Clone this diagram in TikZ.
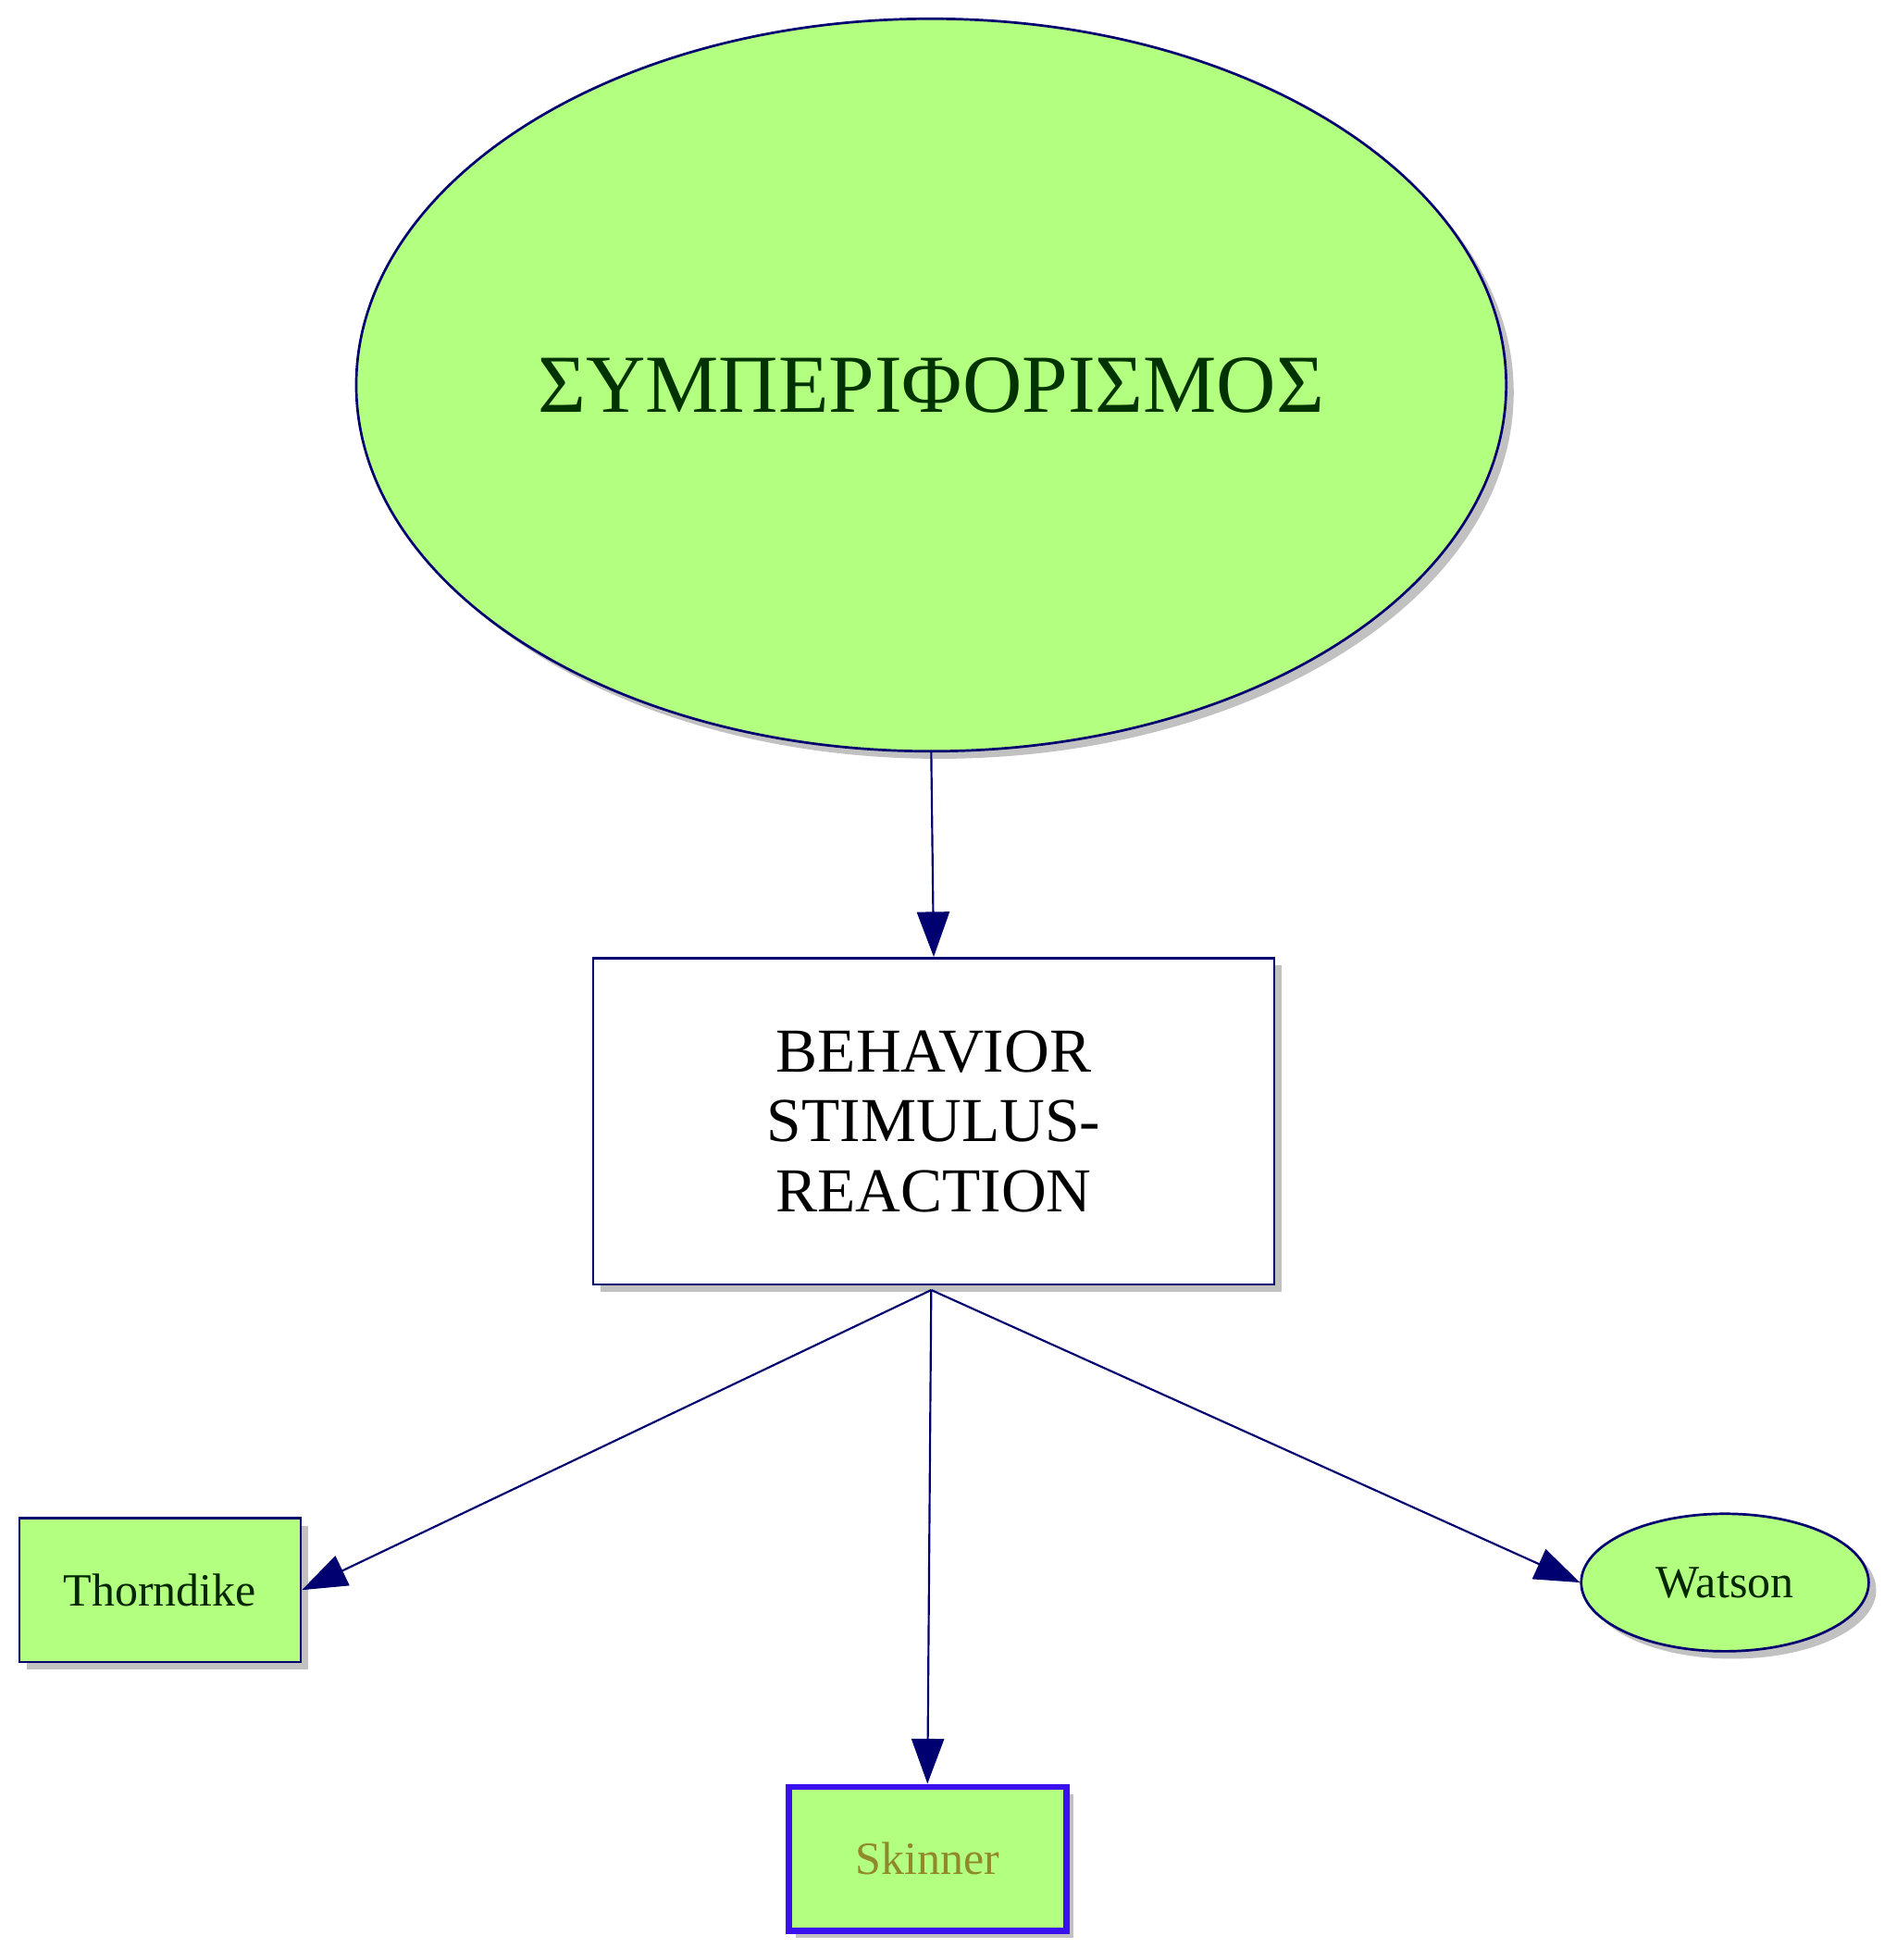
\documentclass[tikz,border=0pt]{standalone}
\usepackage{fontspec}
\setmainfont{Liberation Serif}
\usetikzlibrary{shapes.geometric,arrows.meta,shadows}
\definecolor{lg}{HTML}{B3FF80}
\definecolor{nv}{HTML}{000070}
\definecolor{sk}{HTML}{3A10F0}
\begin{document}
\begin{tikzpicture}[x=1pt,y=-1pt,
  shad/.style={drop shadow={shadow xshift=6pt,shadow yshift=-6pt,fill=gray!60,opacity=0.8}},
  conn/.style={draw=nv,line width=1.6pt,-{Triangle[length=36pt,width=26pt]}},
  gbox/.style={draw=nv,line width=2pt,fill=lg,shad,inner sep=0pt},
  lbl/.style={font=\fontsize{37}{40}\selectfont,text=green!15!black}]
\useasboundingbox (0,0) rectangle (1517,1568);
\node[ellipse,gbox,minimum width=920pt,minimum height=586pt,text=green!20!black,font=\fontsize{66}{72}\selectfont] (a) at (745,308) {ΣΥΜΠΕΡΙΦΟΡΙΣΜΟΣ};
\node[draw=nv,line width=2pt,fill=white,shad,minimum width=545pt,minimum height=261pt,align=center,font=\fontsize{50}{56}\selectfont] (b) at (747,897) {BEHAVIOR\\STIMULUS-\\REACTION};
\node[gbox,minimum width=225pt,minimum height=115pt,lbl] (t) at (128,1272) {Thorndike};
\node[ellipse,gbox,minimum width=230pt,minimum height=110pt,lbl] (w) at (1380,1266) {Watson};
\node[gbox,draw=sk,line width=5pt,minimum width=222pt,minimum height=115pt,lbl,text=olive!70!gray] (s) at (742,1487) {Skinner};
\coordinate (o) at (745,1032);
\draw[conn] (a.south) -- (b.north);
\draw[conn] (o) -- (t.east);
\draw[conn] (o) -- (s.north);
\draw[conn] (o) -- (w.west);
\end{tikzpicture}
\end{document}
